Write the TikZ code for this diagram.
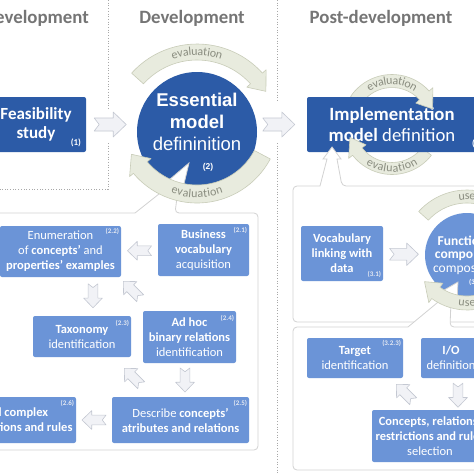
\documentclass[tikz,border=0pt]{standalone}
\usepackage{fontspec}
\setmainfont{Carlito}
\newfontfamily\arialfont{Liberation Sans}
\usetikzlibrary{calc,decorations.text}

\definecolor{darkblue}{HTML}{2C5BA7}
\definecolor{midblue}{HTML}{6B94D7}
\definecolor{tagwhite}{HTML}{E3E8F2}
\definecolor{titlegrey}{HTML}{757575}
\definecolor{dotgrey}{HTML}{A8A8A8}
\definecolor{panelgrey}{HTML}{D2D2D2}
\definecolor{arrowfill}{HTML}{F1F2F6}
\definecolor{arrowline}{HTML}{C4C8D2}
\definecolor{bandfill}{HTML}{E8EBDE}
\definecolor{bandline}{HTML}{C8CCB8}
\definecolor{bandtext}{HTML}{8A8D80}

\tikzset{
  phasetitle/.style={font=\fontsize{18.8}{20}\selectfont\bfseries, text=titlegrey, inner sep=0pt},
  phase/.style={fill=darkblue, rounded corners=2pt, text=white, align=center, inner sep=2pt},
  task/.style={fill=midblue, rounded corners=2pt, text=white, align=center, inner sep=2pt, font=\fontsize{12.5}{15}\selectfont},
  tag/.style={font=\fontsize{7}{8}\selectfont\bfseries, text=tagwhite, inner sep=0pt},
  panel/.style={draw=panelgrey, fill=white, line width=0.8pt},
  divider/.style={draw=dotgrey, line width=0.9pt, dash pattern=on 0.9pt off 1.8pt},
  blockarrow/.style={fill=arrowfill, draw=arrowline, line width=0.6pt, line join=round},
  bandstyle/.style={fill=bandfill, draw=bandline, line width=0.6pt, line join=round},
  notcharrow/.pic={\path[blockarrow] (-16,-6.5) -- (3,-6.5) -- (3,-12.5) -- (16,0) -- (3,12.5) -- (3,6.5) -- (-16,6.5) -- (-11,0) -- cycle;},
}

% curved band with arrow head and text along it
\newcommand\evalband[8]{%
  \pgfmathsetmacro\bandout{#2+#3}%
  \pgfmathsetmacro\bandin{#2-#3}%
  \pgfmathsetmacro\headout{#2+#3+5}%
  \pgfmathsetmacro\headin{#2-#3-5}%
  \pgfmathsetmacro\headtip{#5+16/#2*57.3}%
  \path[bandstyle] ($(#1)+(#4:\bandout)$) arc[start angle=#4, end angle=#5, radius=\bandout]
    -- ($(#1)+(#5:\headout)$) -- ($(#1)+(\headtip:#2)$) -- ($(#1)+(#5:\headin)$)
    -- ($(#1)+(#5:\bandin)$) arc[start angle=#5, end angle=#4, radius=\bandin] -- cycle;
  \path[decorate, decoration={text along path, text align=center, raise=-3.5pt,
    text={|\fontsize{12}{12}\selectfont\color{bandtext}|#8}}]
    ($(#1)+(#6:#2)$) arc[start angle=#6, end angle=#7, radius=#2];
}

\begin{document}
\begin{tikzpicture}[x=1pt, y=-1pt]
\fill[white] (0,0) rectangle (474,474);
\useasboundingbox (0,0) rectangle (474,474);
\clip (0,0) rectangle (474,474);

% phase separators
\draw[divider] (108,0) -- (108,110);
\draw[divider] (108,143) -- (108,189) -- (0,189);
\draw[divider] (277,0) -- (277,100);
\draw[divider] (277,143) -- (277,474);

\node[phasetitle, anchor=base east] (tpre) at (89,23) {Pre-development};
\node[phasetitle, anchor=base] (tdev) at (192,23) {Development};
\node[phasetitle, anchor=base] (tpost) at (381,23) {Post-development};

% main phases
\node[phase, minimum width=100pt, minimum height=55pt, font=\fontsize{17}{19}\selectfont\bfseries] (feas) at (36,124.5) {Feasibility\\study};
\node[tag, font=\fontsize{9}{10}\selectfont\bfseries, text=white, anchor=south east] (t1) at ($(feas.south east)+(-5,-5)$) {(1)};
\node[circle, fill=darkblue, minimum size=120pt, inner sep=0pt] (ess) at (197,132) {};
\node[text=white, align=center, font=\arialfont\fontsize{18.5}{22}\selectfont, inner sep=0pt] (esstxt) at (197,122) {\textbf{Essential}\\\textbf{model}\\defininition};

\coordinate (implc) at (392,124.5);
\evalband{implc}{43.5}{6.5}{214}{318}{225}{315}{evaluation}
\evalband{implc}{44}{6}{38}{142}{135}{45}{evaluation}
\node[phase, minimum width=170pt, minimum height=55pt, font=\fontsize{18.7}{21}\selectfont] (impl) at (implc) {\textbf{Implementation}\\\textbf{model} definition};
\node[tag, font=\fontsize{9}{10}\selectfont\bfseries, text=white, anchor=south west] (t3) at (472,148) {(3)};
% arrow heads of the cycle lie over the box
\begin{scope}
\clip (405,97) rectangle (460,130);
\evalband{implc}{43.5}{6.5}{214}{318}{225}{315}{}
\end{scope}
\begin{scope}
\clip (330,120) rectangle (372,152);
\evalband{implc}{44}{6}{38}{142}{135}{45}{}
\end{scope}

% panels with pointers
\path[panel] (135,213) [rounded corners=4pt] -- (-10,213) -- (-10,450) -- (258,450) -- (258,213) -- (175,213) [sharp corners]
  -- (178.5,186) -- (183,188) -- (189,163) -- (169,180) -- (173.5,182.5) -- cycle;
\path[panel] (320,186) [rounded corners=4pt] -- (293,186) -- (293,322) -- (490,322) -- (490,186) -- (342,186) [sharp corners]
  -- (337,159) -- (341,159) -- (332,147) -- (323,159) -- (327,159) -- cycle;
\node[circle, fill=midblue, minimum size=84pt, inner sep=0pt, text=white, align=center, font=\fontsize{13.5}{13.5}\selectfont] (fcirc) at (467,255) {\textbf{Functional}\\\textbf{component}\\composition};
\path[panel] (408,327) [rounded corners=4pt] -- (293,327) -- (293,470) -- (490,470) -- (490,327) -- (450,327) [sharp corners]
  -- (451,301) -- (457,302) -- (458,282) -- (439,293) -- (443,298) -- cycle;

% evaluation and use cycles
\coordinate (essup) at (ess.center);
\coordinate (essdown) at ($(ess.center)+(0,-12)$);
\coordinate (fcup) at (fcirc.center);
\coordinate (fcdown) at ($(fcirc.center)+(0,-5)$);
\evalband{essup}{80}{8}{222}{318}{232}{308}{evaluation}
\evalband{essdown}{74}{9}{28}{140}{140}{40}{evaluation}
\evalband{fcup}{58.5}{6.5}{222}{322}{235}{305}{use}
\evalband{fcdown}{53}{7}{50}{126}{115}{65}{use}

\node[tag, font=\arialfont\fontsize{8.5}{9}\selectfont\bfseries, text=white] (t2) at (208,167) {(2)};
\node[tag, text=white, anchor=west] (t32) at (469,282) {(3.2)};

% development steps
\node[task, minimum width=91pt, minimum height=52pt] (b21) at (203.5,250) {\textbf{Business}\\\textbf{vocabulary}\\acquisition};
\node[task, minimum width=121pt, minimum height=51pt] (b22) at (60.5,251.5) {Enumeration\\of \textbf{concepts'} and\\\textbf{properties' examples}};
\node[task, minimum width=98pt, minimum height=41pt] (b23) at (82,336.5) {\textbf{Taxonomy}\\identification};
\node[task, minimum width=93pt, minimum height=52pt] (b24) at (189.5,337) {\textbf{Ad hoc}\\\textbf{binary relations}\\identification};
\node[task, minimum width=137pt, minimum height=46pt] (b25) at (180.5,420) {Describe \textbf{concepts'}\\\textbf{atributes and relations}};
\node[task, minimum width=116pt, minimum height=46pt] (b26) at (18,420) {\textbf{All complex}\\\textbf{restrictions and rules}};
\node[tag, anchor=north east] (t21) at ($(b21.north east)+(-2,3)$) {(2.1)};
\node[tag, anchor=north east] (t22) at ($(b22.north east)+(-2,2)$) {(2.2)};
\node[tag, anchor=north east] (t23) at ($(b23.north east)+(-2,4)$) {(2.3)};
\node[tag, anchor=north east] (t24) at ($(b24.north east)+(-2,4)$) {(2.4)};
\node[tag, anchor=north east] (t25) at ($(b25.north east)+(-2,3)$) {(2.5)};
\node[tag, anchor=north east] (t26) at ($(b26.north east)+(-2,3)$) {(2.6)};

% post-development steps
\node[task, minimum width=82pt, minimum height=55pt] (b31) at (342,253.5) {\textbf{Vocabulary}\\\textbf{linking with}\\\textbf{data}};
\node[task, minimum width=96pt, minimum height=40pt] (b323) at (355,358) {\textbf{Target}\\identification};
\node[task, minimum width=60pt, minimum height=40pt] (bio) at (451,358) {\textbf{I/O}\\definition};
\node[task, minimum width=116pt, minimum height=52pt] (bsel) at (430,436) {\textbf{Concepts, relations,}\\\textbf{restrictions and rules}\\selection};
\node[tag, anchor=south east] (t31) at ($(b31.south east)+(-2,-3)$) {(3.1)};
\node[tag, anchor=north east] (t323) at ($(b323.north east)+(-2,2)$) {(3.2.3)};

% block arrows
\pic at ($(feas.east)+(24,0)$) {notcharrow};
\pic at ($(impl.west)+(-28,0)$) {notcharrow};
\pic[scale=0.75, rotate=180] at ($(b21.west)!0.5!(b22.east)$) {notcharrow};
\pic[scale=0.75, rotate=-90] at ($(b23.north)+(11,-20)$) {notcharrow};
\pic[scale=0.75, rotate=135] at ($(b24.north west)+(-11,-21)$) {notcharrow};
\pic[scale=0.75, rotate=135] at ($(b25.north west)+(21,-20)$) {notcharrow};
\pic[scale=0.75, rotate=-90] at ($(b24.south)!0.5!(b25.north)$) {notcharrow};
\pic[scale=0.75, rotate=180] at ($(b25.west)!0.5!(b26.east)$) {notcharrow};
\pic[scale=0.9] at ($(b31.east)!0.5!(fcirc.west)$) {notcharrow};
\pic[scale=0.75, rotate=135] at ($(bsel.north west)+(33,-17)$) {notcharrow};
\pic[scale=0.75, rotate=-90] at ($(bio.south)+(7,17)$) {notcharrow};
\end{tikzpicture}
\end{document}
